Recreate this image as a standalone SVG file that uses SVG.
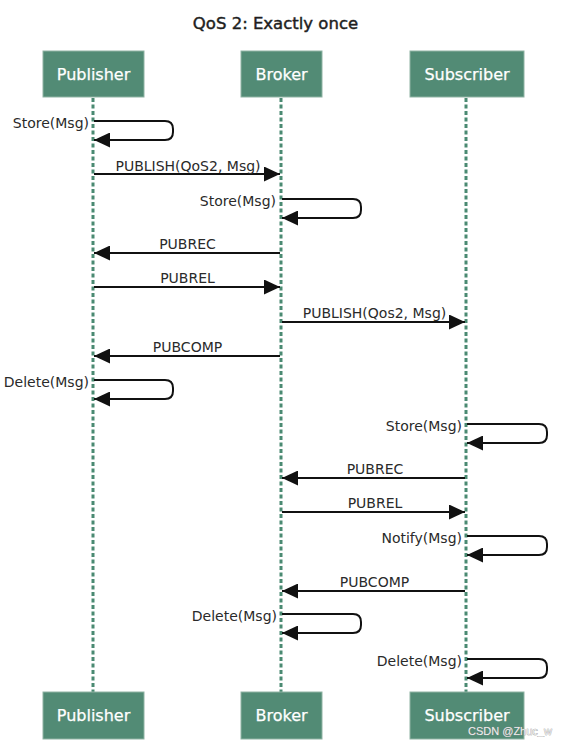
<svg xmlns="http://www.w3.org/2000/svg" width="566" height="741" viewBox="0 0 566 741">
<style>
.bg{fill:#ffffff}
.title{font-family:"DejaVu Sans",Verdana,sans-serif;font-size:16.5px;fill:#1e1e1e;stroke:#1e1e1e;stroke-width:0.45;text-anchor:middle}
.box{fill:#528b75;stroke:#8fb3a4;stroke-width:1}
.btxt{font-family:"DejaVu Sans",Verdana,sans-serif;font-size:16px;fill:#ffffff;stroke:#ffffff;stroke-width:0.25;text-anchor:middle}
.life{stroke:#4a8a72;stroke-width:3;stroke-dasharray:4 2.5;fill:none}
.msg{stroke:#111;stroke-width:2;fill:none}
.lbl{font-family:"DejaVu Sans",Verdana,sans-serif;font-size:14px;fill:#2a2a2a}
.c{text-anchor:middle}
.r{text-anchor:end}
.wm{font-family:"Liberation Sans",Arial,sans-serif;font-size:11px;fill:#eeeeee;stroke:#8a8a8a;stroke-width:0.5;paint-order:stroke}
</style>
<defs>
<marker id="ah" markerUnits="userSpaceOnUse" markerWidth="17" markerHeight="15" viewBox="0 0 17 15" refX="16" refY="7.5" orient="auto">
<path d="M0,0 L16,7.5 L0,15 z" fill="#111"/>
</marker>
</defs>
<rect class="bg" x="0" y="0" width="566" height="741"/>
<text class="title" x="275.5" y="29">QoS 2: Exactly once</text>

<g id="lifelines">
<line class="life" x1="93" y1="98" x2="93" y2="692"/>
<line class="life" x1="281" y1="98" x2="281" y2="692"/>
<line class="life" x1="466" y1="98" x2="466" y2="692"/>
</g>

<g id="publisher-top"><rect class="box" x="43" y="51" width="101" height="46"/><text class="btxt" x="93.5" y="80">Publisher</text></g>
<g id="broker-top"><rect class="box" x="241" y="51" width="81" height="46"/><text class="btxt" x="281.5" y="80">Broker</text></g>
<g id="subscriber-top"><rect class="box" x="410" y="51" width="114" height="46"/><text class="btxt" x="467" y="80">Subscriber</text></g>

<g id="publisher-bottom"><rect class="box" x="43" y="692" width="101" height="47"/><text class="btxt" x="93.5" y="721">Publisher</text></g>
<g id="broker-bottom"><rect class="box" x="241" y="692" width="81" height="47"/><text class="btxt" x="281.5" y="721">Broker</text></g>
<g id="subscriber-bottom"><rect class="box" x="410" y="692" width="114" height="47"/><text class="btxt" x="467" y="721">Subscriber</text></g>

<g id="connectors">
<path class="msg" marker-end="url(#ah)" d="M94,121 H165 Q173,121 173,129 V132 Q173,140 165,140 H94"/>
<line class="msg" marker-end="url(#ah)" x1="94" y1="174" x2="280" y2="174"/>
<path class="msg" marker-end="url(#ah)" d="M282,199 H353 Q361,199 361,207 V210 Q361,218 353,218 H282"/>
<line class="msg" marker-end="url(#ah)" x1="280" y1="253" x2="94" y2="253"/>
<line class="msg" marker-end="url(#ah)" x1="94" y1="287" x2="280" y2="287"/>
<line class="msg" marker-end="url(#ah)" x1="282" y1="322" x2="465" y2="322"/>
<line class="msg" marker-end="url(#ah)" x1="280" y1="356" x2="94" y2="356"/>
<path class="msg" marker-end="url(#ah)" d="M94,380 H165 Q173,380 173,388 V391 Q173,399 165,399 H94"/>
<path class="msg" marker-end="url(#ah)" d="M467,424 H539 Q547,424 547,432 V435 Q547,443 539,443 H467"/>
<line class="msg" marker-end="url(#ah)" x1="465" y1="478" x2="282" y2="478"/>
<line class="msg" marker-end="url(#ah)" x1="282" y1="512" x2="465" y2="512"/>
<path class="msg" marker-end="url(#ah)" d="M467,536 H539 Q547,536 547,544 V547 Q547,555 539,555 H467"/>
<line class="msg" marker-end="url(#ah)" x1="465" y1="591" x2="282" y2="591"/>
<path class="msg" marker-end="url(#ah)" d="M282,614 H353 Q361,614 361,622 V625 Q361,633 353,633 H282"/>
<path class="msg" marker-end="url(#ah)" d="M467,659 H539 Q547,659 547,667 V670 Q547,678 539,678 H467"/>
</g>

<g id="labels">
<text class="lbl r" x="89" y="128">Store(Msg)</text>
<text class="lbl c" x="188" y="171">PUBLISH(QoS2, Msg)</text>
<text class="lbl r" x="276" y="206">Store(Msg)</text>
<text class="lbl c" x="187.5" y="249">PUBREC</text>
<text class="lbl c" x="187.5" y="283">PUBREL</text>
<text class="lbl c" x="374.5" y="318">PUBLISH(Qos2, Msg)</text>
<text class="lbl c" x="187.5" y="352">PUBCOMP</text>
<text class="lbl r" x="89" y="387">Delete(Msg)</text>
<text class="lbl r" x="462" y="431">Store(Msg)</text>
<text class="lbl c" x="375" y="474">PUBREC</text>
<text class="lbl c" x="375" y="508">PUBREL</text>
<text class="lbl r" x="462" y="543">Notify(Msg)</text>
<text class="lbl c" x="374.5" y="587">PUBCOMP</text>
<text class="lbl r" x="277" y="621">Delete(Msg)</text>
<text class="lbl r" x="462" y="666">Delete(Msg)</text>
</g>

<text class="wm" x="468" y="735">CSDN @Zhuc_w</text>
</svg>
